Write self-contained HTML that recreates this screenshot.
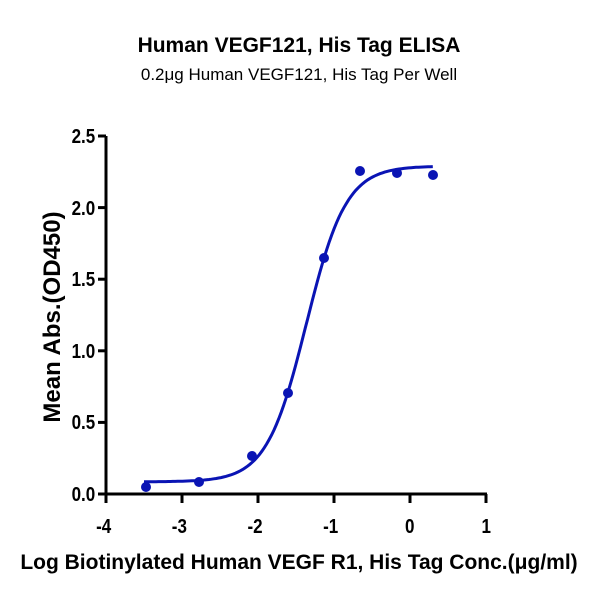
<!DOCTYPE html>
<html><head><style>body{margin:0;background:#fff}</style></head><body>
<svg id="s" width="600" height="600" xmlns="http://www.w3.org/2000/svg" font-family="Liberation Sans, sans-serif">
<text x="299" y="52" text-anchor="middle" font-size="21" font-weight="bold">Human VEGF121, His Tag ELISA</text>
<text x="299" y="80" text-anchor="middle" font-size="17">0.2μg Human VEGF121, His Tag Per Well</text>
<g stroke="#000" stroke-width="3" fill="none">
<line x1="106" y1="136" x2="106" y2="496"/>
<line x1="104.5" y1="494" x2="487" y2="494"/>
<line x1="98" y1="136" x2="106" y2="136"/><line x1="98" y1="207.6" x2="106" y2="207.6"/><line x1="98" y1="279.2" x2="106" y2="279.2"/><line x1="98" y1="350.8" x2="106" y2="350.8"/><line x1="98" y1="422.4" x2="106" y2="422.4"/><line x1="98" y1="494" x2="106" y2="494"/>
<line x1="106" y1="494" x2="106" y2="503"/><line x1="182" y1="494" x2="182" y2="503"/><line x1="258" y1="494" x2="258" y2="503"/><line x1="334" y1="494" x2="334" y2="503"/><line x1="410" y1="494" x2="410" y2="503"/><line x1="486" y1="494" x2="486" y2="503"/>
</g>
<g font-size="20" font-weight="bold" text-anchor="end" transform="scale(0.85,1)">
<text x="112" y="143">2.5</text><text x="112" y="215">2.0</text><text x="112" y="286">1.5</text><text x="112" y="358">1.0</text><text x="112" y="429">0.5</text><text x="112" y="501">0.0</text>
</g>
<g font-size="20" font-weight="bold" text-anchor="middle" transform="scale(0.85,1)">
<text x="122" y="533">-4</text><text x="211" y="533">-3</text><text x="300" y="533">-2</text><text x="389" y="533">-1</text><text x="482" y="533">0</text><text x="572" y="533">1</text>
</g>
<text transform="translate(60,317) rotate(-90)" text-anchor="middle" font-size="24" font-weight="bold" dy="0">Mean Abs.(OD450)</text>
<text x="299" y="569" text-anchor="middle" font-size="21" font-weight="bold">Log Biotinylated Human VEGF R1, His Tag Conc.(μg/ml)</text>
<path id="c" fill="none" stroke="#0a14b4" stroke-width="3"/>
<g fill="#0a14b4">
<circle cx="146" cy="487" r="5"/><circle cx="199" cy="482" r="5"/><circle cx="252" cy="456" r="5"/><circle cx="288" cy="393" r="5"/><circle cx="324" cy="258" r="5"/><circle cx="360" cy="171" r="5"/><circle cx="397" cy="173" r="5"/><circle cx="433" cy="175" r="5"/>
</g>
</svg>
<script>
var d="";for(var i=0;i<=120;i++){var x=-3.5+3.8*i/120;var v=0.085+2.205/(1+Math.exp(-3.82*(x+1.364)));var px=106+(x+4)*76,py=494-v*143.2;d+=(i?"L":"M")+px.toFixed(1)+" "+py.toFixed(1);}
document.getElementById("c").setAttribute("d",d);
</script>
</body></html>
